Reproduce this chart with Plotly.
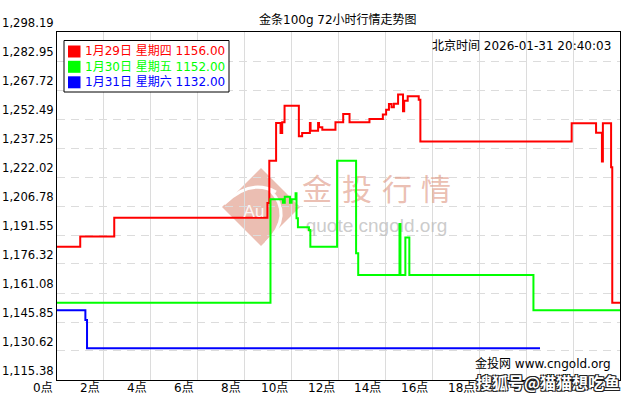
import plotly.graph_objects as go

# ---------------- data ----------------
title_text = "金条100g 72小时行情走势图"
timestamp_text = "北京时间 2026-01-31 20:40:03"
source_text = "金投网 www.cngold.org"
brand_chars = ["金", "投", "行", "情"]
brand_url = "quote.cngold.org"
logo_text = "Au"
repost_text = "搜狐号@猫猫想吃鱼"

series_dates = ["1月29日", "1月30日", "1月31日"]
series_weekdays = ["星期四", "星期五", "星期六"]
series_last = ["1156.00", "1152.00", "1132.00"]
series_colors = ["#ff0000", "#00ff00", "#0000ff"]

x_tick_values = [0, 2, 4, 6, 8, 10, 12, 14, 16, 18, 20, 22, 24]
x_tick_labels = ["0点", "2点", "4点", "6点", "8点", "10点", "12点",
                 "14点", "16点", "18点", "20点", "22点", "24点"]
# labels at 20/22/24 are hidden under the repost watermark in the reference
x_labels_visible_until = 18
y_tick_labels = ["1,115.38", "1,130.62", "1,145.85", "1,161.08", "1,176.32",
                 "1,191.55", "1,206.78", "1,222.02", "1,237.25", "1,252.49",
                 "1,267.72", "1,282.95", "1,298.19"]

# Jan 29 (red) – hour of day, price (step series)
red_hours = [0, 0.99, 2.44, 8.97, 9.05, 9.34, 9.53, 9.60, 9.70, 10.31, 10.45,
             10.78, 10.81, 11.13, 11.17, 11.31, 11.87, 12.20, 12.47, 13.32,
             13.89, 14.03, 14.15, 14.26, 14.36, 14.54, 14.75, 14.80, 14.95,
             15.42, 15.49, 21.94, 22.98, 23.23, 23.27, 23.62, 23.67, 24.0]
red_prices = [1185.4, 1190.7, 1200.6, 1208.4, 1230.6, 1250.4, 1245.1, 1250.8,
              1259.5, 1243.4, 1245.1, 1250.4, 1246.3, 1250.4, 1248.1, 1246.9,
              1250.8, 1255.1, 1250.8, 1252.5, 1254.8, 1257.4, 1260.4, 1258.6,
              1260.5, 1265.3, 1256.5, 1262.1, 1264.4, 1262.6, 1240.7, 1250.2,
              1245.3, 1230.1, 1250.2, 1227.1, 1156.0, 1156.0]

# Jan 30 (green)
green_hours = [0, 9.10, 9.63, 9.71, 9.93, 10.00, 10.17, 10.21, 10.27, 10.74,
               10.80, 11.94, 12.75, 12.84, 14.60, 14.64, 14.85, 15.02, 20.31, 24.0]
green_prices = [1156.0, 1210.3, 1208.5, 1211.7, 1208.5, 1210.3, 1213.5, 1200.3,
                1195.6, 1194.2, 1185.4, 1230.6, 1181.9, 1170.5, 1197.3, 1170.5,
                1190.3, 1170.5, 1152.0, 1152.0]

# Jan 31 (blue)
blue_hours = [0, 1.21, 1.28, 20.59]
blue_prices = [1152.0, 1146.9, 1132.0, 1132.0]

# ---------------- layout geometry ----------------
W, H = 630, 400
PL, PR, PT, PB = 57, 620, 32, 380
y_tick_values = [float(s.replace(",", "")) for s in y_tick_labels]
Y0, Y1 = y_tick_values[0], y_tick_values[-1]
X0, X1 = x_tick_values[0], x_tick_values[-1]


def pxx(px):
    return (px - PL) / (PR - PL)


def pxy(py):
    return (PB - py) / (PB - PT)


def dx(px):
    return X0 + (px - PL) / (PR - PL) * (X1 - X0)


def dy(py):
    return Y0 + (PB - py) / (PB - PT) * (Y1 - Y0)


FONT = "DejaVu Sans, Noto Sans CJK SC"
CJK = "Noto Sans CJK SC"
WM_COLOR = "rgba(222,150,130,0.62)"

fig = go.Figure()

# watermark text (drawn below the lines)
brand_px = [317, 357, 397, 436]
for ch, px in zip(brand_chars, brand_px):
    fig.add_trace(go.Scatter(x=[dx(px)], y=[dy(192)], mode="text", text=[ch],
                             textfont=dict(family=CJK, size=30, color=WM_COLOR),
                             hoverinfo="skip", showlegend=False))
fig.add_trace(go.Scatter(x=[dx(376.5)], y=[dy(227)], mode="text", text=[brand_url],
                         textfont=dict(family="Liberation Sans", size=19,
                                       color="rgba(190,190,190,0.8)"),
                         hoverinfo="skip", showlegend=False))

names = [f"{d} {w} {v}" for d, w, v in zip(series_dates, series_weekdays, series_last)]
for hrs, prs, col, nm in [(red_hours, red_prices, series_colors[0], names[0]),
                          (green_hours, green_prices, series_colors[1], names[1]),
                          (blue_hours, blue_prices, series_colors[2], names[2])]:
    fig.add_trace(go.Scatter(x=hrs, y=prs, mode="lines", name=nm,
                             line=dict(color=col, width=2, shape="hv"),
                             showlegend=False))

fig.add_trace(go.Scatter(x=[dx(254)], y=[dy(213)], mode="text", text=[logo_text],
                         textfont=dict(family="Liberation Sans", size=17,
                                       color="rgba(255,255,255,0.9)"),
                         hoverinfo="skip", showlegend=False))

shapes = []
# logo diamond
shapes.append(dict(type="path", xref="paper", yref="paper", layer="between",
                   path=(f"M {pxx(261)},{pxy(168)} L {pxx(300)},{pxy(207)} "
                         f"L {pxx(261)},{pxy(246)} L {pxx(222)},{pxy(207)} Z"),
                   fillcolor=WM_COLOR, line=dict(width=0)))
shapes.append(dict(type="path", xref="paper", yref="paper", layer="between",
                   path=(f"M {pxx(224)},{pxy(204)} Q {pxx(250)},{pxy(178)} "
                         f"{pxx(276)},{pxy(192)}"),
                   line=dict(color="white", width=3)))
shapes.append(dict(type="path", xref="paper", yref="paper", layer="between",
                   path=(f"M {pxx(270)},{pxy(190)} Q {pxx(294)},{pxy(215)} "
                         f"{pxx(266)},{pxy(243)}"),
                   line=dict(color="white", width=3)))

# legend box
shapes.append(dict(type="rect", xref="paper", yref="paper", layer="above",
                   x0=pxx(64), x1=pxx(229), y0=pxy(92), y1=pxy(40.5),
                   fillcolor="white", line=dict(color="black", width=1)))
legend_rows = [51.5, 66.8, 82.3]
annotations = []
for i, yy in enumerate(legend_rows):
    shapes.append(dict(type="rect", xref="paper", yref="paper", layer="above",
                       x0=pxx(68), x1=pxx(80.5), y0=pxy(yy + 6), y1=pxy(yy - 6),
                       fillcolor=series_colors[i], line=dict(width=0)))
    annotations.append(dict(xref="paper", yref="paper", x=pxx(83), y=pxy(yy),
                            xanchor="left", yanchor="middle", showarrow=False,
                            text=names[i], font=dict(family=FONT, size=12,
                                                     color=series_colors[i])))

annotations.append(dict(xref="paper", yref="paper", x=pxx(338), y=pxy(19),
                        xanchor="center", yanchor="middle", showarrow=False,
                        text=title_text, font=dict(family=FONT, size=12, color="black")))
annotations.append(dict(xref="paper", yref="paper", x=pxx(613), y=pxy(46),
                        xanchor="right", yanchor="middle", showarrow=False,
                        text=timestamp_text, font=dict(family=FONT, size=12, color="black")))
annotations.append(dict(xref="paper", yref="paper", x=pxx(613), y=pxy(363),
                        xanchor="right", yanchor="middle", showarrow=False,
                        text=source_text, font=dict(family=FONT, size=12, color="black")))

for v, lab in zip(x_tick_values, x_tick_labels):
    if v > x_labels_visible_until:
        continue
    annotations.append(dict(xref="x", yref="paper", x=v, y=pxy(387.5),
                            xanchor="right", yanchor="middle", xshift=-2,
                            showarrow=False, text=lab,
                            font=dict(family=FONT, size=12, color="black")))

annotations.append(dict(xref="paper", yref="paper", x=pxx(622), y=pxy(382),
                        xanchor="right", yanchor="middle", showarrow=False,
                        text=repost_text,
                        font=dict(family=CJK, size=16, color="white", weight="bold",
                                  shadow="1px 1px 0 #222, -1px -1px 0 #222, 1px -1px 0 #222, -1px 1px 0 #222")))

fig.update_layout(
    width=W, height=H,
    margin=dict(l=PL, r=W - PR, t=PT, b=H - PB, pad=0, autoexpand=False),
    paper_bgcolor="white", plot_bgcolor="white",
    showlegend=False,
    shapes=shapes, annotations=annotations,
    xaxis=dict(range=[X0, X1], tickvals=x_tick_values, showticklabels=False,
               showgrid=True, gridcolor="#dcdcdc", gridwidth=1, automargin=False,
               showline=True, linecolor="black", linewidth=1, mirror=True,
               ticks="", zeroline=False, fixedrange=True),
    yaxis=dict(range=[Y0, Y1], tickvals=y_tick_values, ticktext=y_tick_labels,
               showgrid=True, gridcolor="#dcdcdc", gridwidth=1, griddash="8px,6px",
               showline=True, linecolor="black", linewidth=1, mirror=True,
               automargin=False, ticklen=0,
               ticks="", zeroline=False, ticklabelshift=-9, ticklabelstandoff=0,
               tickfont=dict(family=FONT, size=11.6, color="black"), fixedrange=True),
)

fig.write_html("out.html", config={"displayModeBar": False},
               post_script="document.body.style.margin='0';document.body.style.overflow='hidden';")
